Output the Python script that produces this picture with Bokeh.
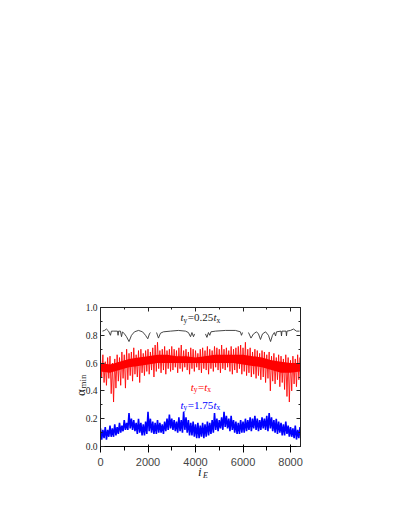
import math
from bokeh.plotting import figure
from bokeh.models import Range1d, LinearAxis, FixedTicker, PrintfTickFormatter, Label, Title
from bokeh.embed import file_html
from bokeh.resources import INLINE

# ---------------- data ----------------
x_ticks = [0, 2000, 4000, 6000, 8000]
x_minor = [1000, 3000, 5000, 7000]
y_ticks = [0.0, 0.2, 0.4, 0.6, 0.8, 1.0]
y_minor = [0.1, 0.3, 0.5, 0.7, 0.9]

# t_y = 0.25 t_x  (black) ; NaN marks breaks of the curve
black_x = [84, 170, 250, 340, 420, 460, 550, 715, 740, 760, 840, 885, 925, 1010, 1095, 1200,
           1305, 1430, 1600, 1770, 1895, 1990, 2060, 2100, float('nan'),
           2360, 2440, 2525, 2650, 2950, 3280, 3580, 3700, 3790, 3850, 3915, 3960, float('nan'),
           4420, 4480, 4545, 4600, 4650, 4840, 5260, 5680, 5890, 5935, 5980, float('nan'),
           6230, 6335, 6440, 6570, 6650, 6735, 6820, 6950, 7070, 7160, 7240, 7320, 7370, 7410,
           7600, 7620, 7640, 7810, 7830, 7850, 8000, 8125, 8250, 8380]
black_y = [0.83, 0.835, 0.845, 0.83, 0.80, 0.83, 0.83, 0.83, 0.80, 0.83, 0.83, 0.79, 0.825, 0.81, 0.79, 0.755,
           0.80, 0.825, 0.835, 0.825, 0.80, 0.775, 0.81, 0.82, float('nan'),
           0.82, 0.78, 0.815, 0.825, 0.83, 0.835, 0.83, 0.82, 0.79, 0.82, 0.79, 0.81, float('nan'),
           0.81, 0.785, 0.82, 0.80, 0.825, 0.83, 0.835, 0.835, 0.825, 0.80, 0.82, float('nan'),
           0.82, 0.78, 0.81, 0.825, 0.81, 0.77, 0.81, 0.825, 0.80, 0.755, 0.80, 0.82, 0.795, 0.825,
           0.83, 0.795, 0.83, 0.83, 0.795, 0.83, 0.835, 0.845, 0.83, 0.83]

# sample positions of the noisy series (every 100 in i_E)
band_x = [i * 100 for i in range(85)]

# t_y = t_x (red): upper and lower excursions
red_hi = [0.63, 0.66, 0.61, 0.64, 0.65, 0.60, 0.63, 0.66, 0.64, 0.68,
          0.66, 0.70, 0.67, 0.68, 0.71, 0.66, 0.69, 0.70, 0.67, 0.69,
          0.70, 0.68, 0.71, 0.73, 0.75, 0.69, 0.70, 0.72, 0.69, 0.70,
          0.72, 0.70, 0.69, 0.71, 0.73, 0.69, 0.70, 0.68, 0.71, 0.70,
          0.69, 0.67, 0.70, 0.71, 0.69, 0.72, 0.70, 0.69, 0.72, 0.71,
          0.70, 0.73, 0.70, 0.71, 0.69, 0.72, 0.70, 0.71, 0.72, 0.73,
          0.71, 0.75, 0.70, 0.71, 0.68, 0.70, 0.69, 0.67, 0.69, 0.68,
          0.66, 0.68, 0.65, 0.67, 0.64, 0.66, 0.65, 0.63, 0.66, 0.64,
          0.62, 0.65, 0.63, 0.66, 0.64]
red_lo = [0.50, 0.46, 0.44, 0.49, 0.38, 0.32, 0.42, 0.47, 0.44, 0.49,
          0.42, 0.48, 0.51, 0.47, 0.52, 0.50, 0.46, 0.53, 0.51, 0.54,
          0.52, 0.55, 0.50, 0.54, 0.56, 0.53, 0.55, 0.52, 0.56, 0.54,
          0.55, 0.57, 0.53, 0.56, 0.54, 0.57, 0.55, 0.52, 0.56, 0.54,
          0.57, 0.55, 0.53, 0.56, 0.55, 0.52, 0.56, 0.54, 0.57, 0.55,
          0.53, 0.56, 0.55, 0.57, 0.54, 0.52, 0.55, 0.53, 0.56, 0.52,
          0.54, 0.51, 0.53, 0.50, 0.52, 0.49, 0.51, 0.48, 0.50, 0.46,
          0.49, 0.40, 0.47, 0.45, 0.48, 0.43, 0.46, 0.41, 0.36, 0.32,
          0.40, 0.45, 0.43, 0.48, 0.46]
# dense core of the red band (every 400 in i_E)
core_x = [i * 400 for i in range(22)]
red_core_hi = [0.60, 0.59, 0.61, 0.63, 0.64, 0.65, 0.66, 0.66, 0.65, 0.65, 0.64,
               0.65, 0.66, 0.66, 0.66, 0.66, 0.65, 0.64, 0.62, 0.61, 0.60, 0.60]
red_core_lo = [0.54, 0.53, 0.55, 0.57, 0.58, 0.59, 0.60, 0.60, 0.60, 0.60, 0.60,
               0.60, 0.60, 0.60, 0.60, 0.59, 0.58, 0.57, 0.55, 0.53, 0.53, 0.54]

# t_y = 1.75 t_x (blue): upper and lower excursions
blue_hi = [0.13, 0.12, 0.14, 0.12, 0.15, 0.13, 0.16, 0.14, 0.17, 0.15,
           0.19, 0.17, 0.24, 0.20, 0.19, 0.17, 0.20, 0.17, 0.16, 0.18,
           0.25, 0.20, 0.18, 0.17, 0.19, 0.17, 0.16, 0.18, 0.20, 0.23,
           0.20, 0.19, 0.18, 0.21, 0.19, 0.25, 0.21, 0.19, 0.17, 0.18,
           0.16, 0.17, 0.15, 0.17, 0.16, 0.18, 0.17, 0.19, 0.24, 0.20,
           0.19, 0.21, 0.25, 0.22, 0.20, 0.22, 0.19, 0.18, 0.17, 0.19,
           0.18, 0.20, 0.19, 0.21, 0.20, 0.22, 0.20, 0.19, 0.21, 0.20,
           0.22, 0.24, 0.21, 0.19, 0.20, 0.18, 0.17, 0.16, 0.18, 0.15,
           0.14, 0.13, 0.15, 0.12, 0.14]
blue_lo = [0.05, 0.06, 0.05, 0.07, 0.07, 0.07, 0.08, 0.09, 0.10, 0.11,
           0.12, 0.12, 0.13, 0.12, 0.11, 0.09, 0.10, 0.08, 0.08, 0.09,
           0.11, 0.10, 0.09, 0.09, 0.10, 0.10, 0.09, 0.11, 0.12, 0.13,
           0.12, 0.11, 0.10, 0.11, 0.10, 0.12, 0.10, 0.08, 0.08, 0.07,
           0.06, 0.06, 0.07, 0.06, 0.07, 0.08, 0.09, 0.10, 0.12, 0.11,
           0.13, 0.12, 0.14, 0.13, 0.11, 0.12, 0.10, 0.09, 0.09, 0.10,
           0.10, 0.11, 0.12, 0.11, 0.13, 0.12, 0.11, 0.12, 0.13, 0.12,
           0.11, 0.13, 0.11, 0.10, 0.09, 0.10, 0.08, 0.08, 0.09, 0.07,
           0.07, 0.06, 0.05, 0.06, 0.05]


def zigzag(xs, hi, lo):
    zx, zy = [], []
    for x, h, l in zip(xs, hi, lo):
        zx += [x, x + 50]
        zy += [h, l]
    return zx, zy


SERIF = "Liberation Serif"
INK = "#222222"

W, H = 391, 500
p = figure(width=W, height=H, output_backend="svg", toolbar_location=None,
           x_range=Range1d(0, 8420), y_range=Range1d(0, 1.0),
           min_border_left=100, min_border_right=91, min_border_top=307, min_border_bottom=54)
p.grid.visible = False
p.outline_line_color = INK
p.outline_line_width = 1
p.background_fill_color = "white"
p.border_fill_color = "white"

for ax in p.xaxis:
    ax.ticker = FixedTicker(ticks=x_ticks, minor_ticks=x_minor)
for ax in p.yaxis:
    ax.ticker = FixedTicker(ticks=y_ticks, minor_ticks=y_minor)
    ax.formatter = PrintfTickFormatter(format="%.1f")

top = LinearAxis(ticker=FixedTicker(ticks=x_ticks, minor_ticks=x_minor))
right = LinearAxis(ticker=FixedTicker(ticks=y_ticks, minor_ticks=y_minor))
p.add_layout(top, "above")
p.add_layout(right, "right")

for ax in [p.xaxis[0], p.yaxis[0], top, right]:
    ax.major_tick_in = 4
    ax.major_tick_out = 0
    ax.minor_tick_in = 2
    ax.minor_tick_out = 0
    ax.axis_line_color = INK
    ax.major_tick_line_color = INK
    ax.minor_tick_line_color = INK
    ax.major_label_text_font = SERIF
    ax.major_label_text_font_size = "9.5px"
    ax.major_label_text_color = INK
    ax.major_label_standoff = 3
for ax in [top, right]:
    ax.major_label_text_alpha = 0
    ax.major_label_text_font_size = "1px"
    ax.major_label_standoff = 0

# series
p.varea(x=core_x, y1=red_core_lo, y2=red_core_hi, fill_color="#ff0000")
rx, ry = zigzag(band_x, red_hi, red_lo)
p.line(rx, ry, line_color="#ff0000", line_width=1.0, line_alpha=0.85)
bx, by = zigzag(band_x, blue_hi, blue_lo)
p.line(bx, by, line_color="#0000ff", line_width=1.6)
p.line(black_x, black_y, line_color="#333333", line_width=0.9)


def rich(x, y, parts, color):
    """parts: list of (text, style, size, dx, dy) with offsets in screen px"""
    for text, style, size, dx, dy in parts:
        p.add_layout(Label(x=x, y=y, x_offset=dx, y_offset=dy, text=text,
                           text_font=SERIF, text_font_style=style, text_font_size=size,
                           text_color=color, text_baseline="alphabetic", text_align="left"))


BIG = "11px"
SM = "7.5px"
# t_y=0.25t_x  (black)
rich(3370, 0.93, [("t", "italic", BIG, 0, 0), ("y", "normal", SM, 3.0, -3),
                  ("=0.25", "normal", BIG, 7.2, 0), ("t", "italic", BIG, 32.9, 0),
                  ("x", "normal", SM, 35.9, -3)], INK)
# t_y=t_x (red)
rich(3800, 0.43, [("t", "italic", BIG, 0, 0), ("y", "normal", SM, 3.0, -3),
                  ("=", "normal", BIG, 7.2, 0), ("t", "italic", BIG, 13.6, 0),
                  ("x", "normal", SM, 16.6, -3)], "#ff0000")
# t_y=1.75t_x (blue)
rich(3370, 0.30, [("t", "italic", BIG, 0, 0), ("y", "normal", SM, 3.0, -3),
                  ("=1.75", "normal", BIG, 7.2, 0), ("t", "italic", BIG, 32.9, 0),
                  ("x", "normal", SM, 35.9, -3)], "#0000ff")

# axis titles as side-panel titles (alpha_min on the left, i_E below)
p.add_layout(Title(text="min", text_font=SERIF, text_font_size="9px", text_font_style="normal",
                   text_color=INK, align="left", vertical_align="bottom", offset=58,
                   standoff=-10.5), "left")
p.add_layout(Title(text="\u03b1", text_font=SERIF, text_font_size="13px", text_font_style="normal",
                   text_color=INK, align="left", vertical_align="bottom", offset=50.5,
                   standoff=-14), "left")
p.add_layout(Title(text="i", text_font=SERIF, text_font_size="13px", text_font_style="italic",
                   text_color=INK, align="left", vertical_align="bottom", offset=97.5,
                   standoff=-13.2), "below")
p.add_layout(Title(text="E", text_font=SERIF, text_font_size="8px", text_font_style="italic",
                   text_color=INK, align="left", vertical_align="top", offset=102.5,
                   standoff=-2.6), "below")

open("out.html", "w").write(file_html(p, INLINE))
